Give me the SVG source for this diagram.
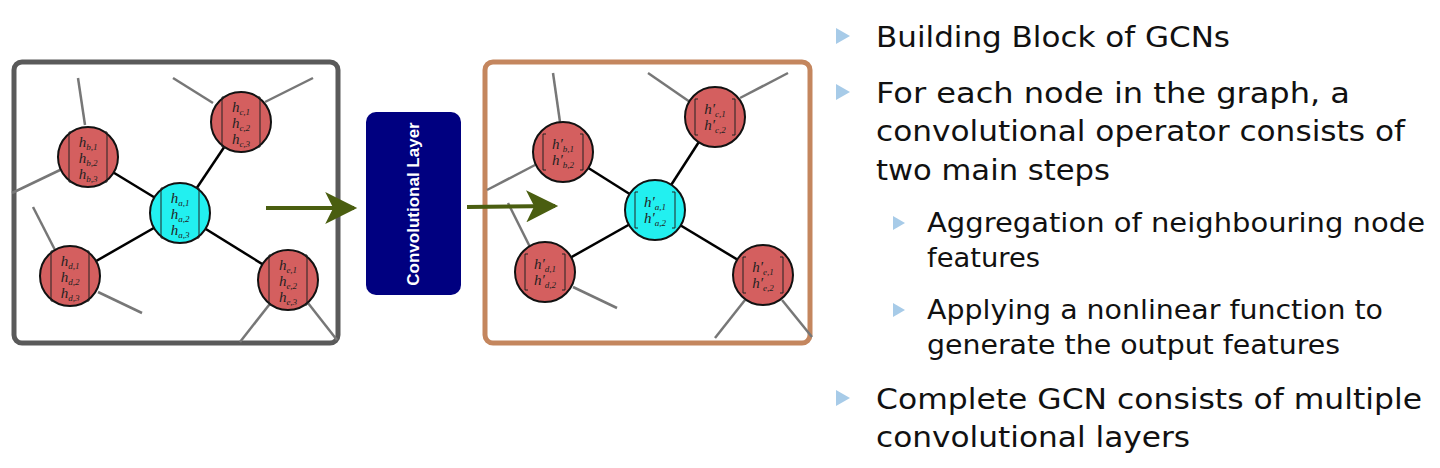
<svg xmlns="http://www.w3.org/2000/svg" width="1440" height="468" viewBox="0 0 1440 468">
<style>
.stub{stroke:#777;stroke-width:2.5}
.edge{stroke:#000;stroke-width:2.5}
.red{fill:#d45f5f;stroke:#111;stroke-width:2}
.cyan{fill:#22f0f0;stroke:#111;stroke-width:2}
.m{font-family:"Liberation Serif",serif;font-style:italic;font-size:15px;fill:#222;text-anchor:middle}
.s{font-size:9px}
.br{fill:none;stroke:#222;stroke-width:1}
.t{font-family:"DejaVu Sans",sans-serif;font-size:28px;fill:#111}
.t2{font-family:"DejaVu Sans",sans-serif;font-size:26px;fill:#111}
.bul{fill:#a7cbe8}
</style>
<defs>
<marker id="ah" viewBox="0 0 10 10" refX="9" refY="5" markerWidth="10" markerHeight="8" orient="auto" markerUnits="strokeWidth"><path d="M0,0 L10,5 L0,10 L2.5,5 Z" fill="#4a5e10"/></marker>
<g id="br3"><path class="br" d="M-16,-25 h-3 v50 h3 M16,-25 h3 v50 h-3"/></g>
<g id="br2"><path class="br" d="M-17,-18 h-3 v36 h3 M17,-18 h3 v36 h-3"/></g>
</defs>
<rect width="1440" height="468" fill="#fff"/>
<rect x="14" y="62" width="324" height="281" rx="8" fill="#fff" stroke="#5a5a5a" stroke-width="5"/>
<rect x="485" y="62" width="325" height="281" rx="8" fill="#fff" stroke="#c4865e" stroke-width="5"/>
<g id="connectors">
<line class="stub" x1="85" y1="125" x2="78" y2="78"/><line class="stub" x1="60" y1="170" x2="12" y2="193"/>
<line class="stub" x1="213" y1="103" x2="173" y2="78"/><line class="stub" x1="265" y1="102" x2="313" y2="78"/>
<line class="stub" x1="55" y1="250" x2="33" y2="207"/><line class="stub" x1="98" y1="292" x2="142" y2="313"/>
<line class="stub" x1="269" y1="305" x2="240" y2="342"/><line class="stub" x1="308" y1="303" x2="337" y2="340"/>
<line class="edge" x1="88" y1="157" x2="180" y2="213"/><line class="edge" x1="241" y1="122" x2="180" y2="213"/>
<line class="edge" x1="70" y1="276" x2="180" y2="213"/><line class="edge" x1="288" y1="280" x2="180" y2="213"/>
<line class="stub" x1="560" y1="122" x2="553" y2="73"/><line class="stub" x1="535" y1="165" x2="487" y2="190"/>
<line class="stub" x1="690" y1="102" x2="648" y2="73"/><line class="stub" x1="740" y1="98" x2="788" y2="73"/>
<line class="stub" x1="530" y1="247" x2="508" y2="203"/><line class="stub" x1="573" y1="287" x2="617" y2="308"/>
<line class="stub" x1="745" y1="300" x2="715" y2="338"/><line class="stub" x1="782" y1="300" x2="812" y2="337"/>
<line class="edge" x1="563" y1="152" x2="655" y2="210"/><line class="edge" x1="715" y1="117" x2="655" y2="210"/>
<line class="edge" x1="545" y1="272" x2="655" y2="210"/><line class="edge" x1="763" y1="275" x2="655" y2="210"/>
<line x1="266" y1="208" x2="354" y2="208" stroke="#4a5e10" stroke-width="4" marker-end="url(#ah)"/>
<line x1="467" y1="207" x2="555" y2="206" stroke="#4a5e10" stroke-width="4" marker-end="url(#ah)"/>
</g>
<g id="nb"><circle class="red" cx="88" cy="157" r="30"/><use href="#br3" x="88" y="157"/><text class="m" x="88" y="157"><tspan x="88" dy="-10">h<tspan class="s" dy="3">b,1</tspan></tspan><tspan x="88" dy="13">h<tspan class="s" dy="3">b,2</tspan></tspan><tspan x="88" dy="13">h<tspan class="s" dy="3">b,3</tspan></tspan></text></g>
<g id="nc"><circle class="red" cx="241" cy="122" r="30"/><use href="#br3" x="241" y="122"/><text class="m" x="241" y="122"><tspan x="241" dy="-10">h<tspan class="s" dy="3">c,1</tspan></tspan><tspan x="241" dy="13">h<tspan class="s" dy="3">c,2</tspan></tspan><tspan x="241" dy="13">h<tspan class="s" dy="3">c,3</tspan></tspan></text></g>
<g id="na"><circle class="cyan" cx="180" cy="213" r="30"/><use href="#br3" x="180" y="213"/><text class="m" x="180" y="213"><tspan x="180" dy="-10">h<tspan class="s" dy="3">a,1</tspan></tspan><tspan x="180" dy="13">h<tspan class="s" dy="3">a,2</tspan></tspan><tspan x="180" dy="13">h<tspan class="s" dy="3">a,3</tspan></tspan></text></g>
<g id="nd"><circle class="red" cx="70" cy="276" r="30"/><use href="#br3" x="70" y="276"/><text class="m" x="70" y="276"><tspan x="70" dy="-10">h<tspan class="s" dy="3">d,1</tspan></tspan><tspan x="70" dy="13">h<tspan class="s" dy="3">d,2</tspan></tspan><tspan x="70" dy="13">h<tspan class="s" dy="3">d,3</tspan></tspan></text></g>
<g id="ne"><circle class="red" cx="288" cy="280" r="30"/><use href="#br3" x="288" y="280"/><text class="m" x="288" y="280"><tspan x="288" dy="-10">h<tspan class="s" dy="3">e,1</tspan></tspan><tspan x="288" dy="13">h<tspan class="s" dy="3">e,2</tspan></tspan><tspan x="288" dy="13">h<tspan class="s" dy="3">e,3</tspan></tspan></text></g>
<g id="conv"><rect x="366" y="112" width="95" height="183" rx="10" fill="#000080"/><text transform="translate(419,204) rotate(-90)" text-anchor="middle" font-family="Liberation Sans,Arial,sans-serif" font-weight="bold" font-size="17" fill="#fff">Convolutional Layer</text></g>
<g id="nb2"><circle class="red" cx="563" cy="152" r="30"/><use href="#br2" x="563" y="152"/><text class="m" x="563" y="152"><tspan x="563" dy="-3">h′<tspan class="s" dy="3">b,1</tspan></tspan><tspan x="563" dy="13">h′<tspan class="s" dy="3">b,2</tspan></tspan></text></g>
<g id="nc2"><circle class="red" cx="715" cy="117" r="30"/><use href="#br2" x="715" y="117"/><text class="m" x="715" y="117"><tspan x="715" dy="-3">h′<tspan class="s" dy="3">c,1</tspan></tspan><tspan x="715" dy="13">h′<tspan class="s" dy="3">c,2</tspan></tspan></text></g>
<g id="na2"><circle class="cyan" cx="655" cy="210" r="30"/><use href="#br2" x="655" y="210"/><text class="m" x="655" y="210"><tspan x="655" dy="-3">h′<tspan class="s" dy="3">a,1</tspan></tspan><tspan x="655" dy="13">h′<tspan class="s" dy="3">a,2</tspan></tspan></text></g>
<g id="nd2"><circle class="red" cx="545" cy="272" r="30"/><use href="#br2" x="545" y="272"/><text class="m" x="545" y="272"><tspan x="545" dy="-3">h′<tspan class="s" dy="3">d,1</tspan></tspan><tspan x="545" dy="13">h′<tspan class="s" dy="3">d,2</tspan></tspan></text></g>
<g id="ne2"><circle class="red" cx="763" cy="275" r="30"/><use href="#br2" x="763" y="275"/><text class="m" x="763" y="275"><tspan x="763" dy="-3">h′<tspan class="s" dy="3">e,1</tspan></tspan><tspan x="763" dy="13">h′<tspan class="s" dy="3">e,2</tspan></tspan></text></g>
<g id="text">
<path class="bul" d="M836,28 l14,8 l-14,8 z"/><text class="t" x="876" y="47" textLength="354" lengthAdjust="spacingAndGlyphs">Building Block of GCNs</text>
<path class="bul" d="M836,84 l14,8 l-14,8 z"/><text class="t" x="876" y="103" textLength="474" lengthAdjust="spacingAndGlyphs">For each node in the graph, a</text>
<text class="t" x="876" y="141" textLength="529" lengthAdjust="spacingAndGlyphs">convolutional operator consists of</text>
<text class="t" x="876" y="180" textLength="234" lengthAdjust="spacingAndGlyphs">two main steps</text>
<path class="bul" d="M893,216 l12,7 l-12,7 z"/><text class="t2" x="927" y="232" textLength="498" lengthAdjust="spacingAndGlyphs">Aggregation of neighbouring node</text>
<text class="t2" x="927" y="267" textLength="113" lengthAdjust="spacingAndGlyphs">features</text>
<path class="bul" d="M893,303 l12,7 l-12,7 z"/><text class="t2" x="927" y="319" textLength="456" lengthAdjust="spacingAndGlyphs">Applying a nonlinear function to</text>
<text class="t2" x="927" y="354" textLength="413" lengthAdjust="spacingAndGlyphs">generate the output features</text>
<path class="bul" d="M836,390 l14,8 l-14,8 z"/><text class="t" x="876" y="409" textLength="546" lengthAdjust="spacingAndGlyphs">Complete GCN consists of multiple</text>
<text class="t" x="876" y="447" textLength="314" lengthAdjust="spacingAndGlyphs">convolutional layers</text>
</g>
</svg>
